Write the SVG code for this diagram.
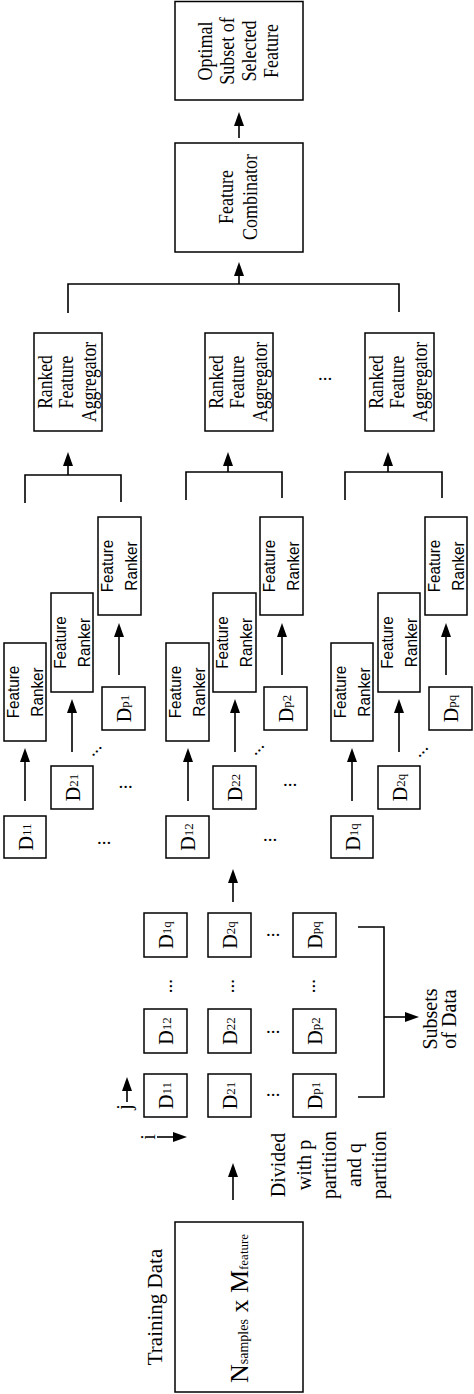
<svg xmlns="http://www.w3.org/2000/svg" width="474" height="1394" viewBox="0 0 474 1394">
<style>
.box{fill:#fff;stroke:#000;stroke-width:1.5}
.ln{fill:none;stroke:#000;stroke-width:1.6}
.arr{fill:none;stroke:#000;stroke-width:1.6;marker-end:url(#ah)}
.t{font-family:"Liberation Serif","Times New Roman",serif;font-size:20px;fill:#000}
.s{font-family:"Liberation Sans",Arial,sans-serif;font-size:17px;fill:#000}
.m{text-anchor:middle}
.sub{font-size:13px}
.dot{font-family:"Liberation Serif","Times New Roman",serif;font-size:19px;fill:#000;text-anchor:middle}
</style>
<defs>
<marker id="ah" viewBox="0 0 14 10" refX="10" refY="5" markerWidth="14" markerHeight="10" markerUnits="userSpaceOnUse" orient="auto">
<path d="M0,0 L14,5 L0,10 z" fill="#000"/>
</marker>
</defs>
<rect width="474" height="1394" fill="#fff"/>

<g id="connectors">
<line class="arr" x1="239" y1="138" x2="239" y2="116"/>
<line class="arr" x1="239" y1="284" x2="239" y2="266"/>
<path class="ln" d="M68,313 V284 H399 V312"/>
<line class="arr" x1="68" y1="475" x2="68" y2="456"/>
<line class="arr" x1="228" y1="472" x2="228" y2="456"/>
<line class="arr" x1="388" y1="472" x2="388" y2="456"/>
<path class="ln" d="M25,503 V475 H121 V502"/>
<path class="ln" d="M186,500 V472 H282 V498"/>
<path class="ln" d="M345,500 V472 H442 V498"/>
<line class="arr" x1="25" y1="801" x2="25" y2="752"/>
<line class="arr" x1="72" y1="752" x2="72" y2="703"/>
<line class="arr" x1="119" y1="675" x2="119" y2="627"/>
<line class="arr" x1="188" y1="801" x2="188" y2="752"/>
<line class="arr" x1="235" y1="752" x2="235" y2="703"/>
<line class="arr" x1="282" y1="675" x2="282" y2="627"/>
<line class="arr" x1="352" y1="801" x2="352" y2="752"/>
<line class="arr" x1="399" y1="752" x2="399" y2="703"/>
<line class="arr" x1="446" y1="675" x2="446" y2="627"/>
<line class="arr" x1="233" y1="902" x2="233" y2="873"/>
<line class="arr" x1="233" y1="1200" x2="233" y2="1167"/>
<line class="arr" x1="127" y1="1102" x2="127" y2="1081"/>
<line class="arr" x1="157" y1="1137" x2="183" y2="1137"/>
<path class="ln" d="M358,927 H384 V1097 H358"/>
<line class="arr" x1="384" y1="1017" x2="415" y2="1017"/>
</g>

<g id="optimal">
<rect class="box" x="175" y="1.5" width="128" height="98.5"/>
<text class="t m" transform="translate(0,51) rotate(-90) scale(0.9,1)"><tspan x="0" y="212">Optimal</tspan><tspan x="0" y="234">Subset of</tspan><tspan x="0" y="256">Selected</tspan><tspan x="0" y="278">Feature</tspan></text>
</g>

<g id="combinator">
<rect class="box" x="175" y="143" width="128" height="109"/>
<text class="t m" transform="translate(0,197) rotate(-90) scale(0.9,1)"><tspan x="0" y="233">Feature</tspan><tspan x="0" y="257">Combinator</tspan></text>
</g>

<g id="agg1">
<rect class="box" x="34" y="333" width="68" height="98"/>
<text class="t m" transform="translate(0,382) rotate(-90) scale(0.88,1)"><tspan x="0" y="52">Ranked</tspan><tspan x="0" y="73.5">Feature</tspan><tspan x="0" y="96">Aggregator</tspan></text>
</g>
<g id="agg2">
<rect class="box" x="205" y="333" width="68" height="98"/>
<text class="t m" transform="translate(0,382) rotate(-90) scale(0.88,1)"><tspan x="0" y="223">Ranked</tspan><tspan x="0" y="244.5">Feature</tspan><tspan x="0" y="267">Aggregator</tspan></text>
</g>
<g id="agg3">
<rect class="box" x="365" y="333" width="69" height="98"/>
<text class="t m" transform="translate(0,382) rotate(-90) scale(0.88,1)"><tspan x="0" y="383">Ranked</tspan><tspan x="0" y="404.5">Feature</tspan><tspan x="0" y="427">Aggregator</tspan></text>
</g>
<text class="dot" x="325" y="380">...</text>

<g id="fr11">
<rect class="box" x="4" y="643" width="42" height="98"/>
<text class="s m" transform="translate(0,692) rotate(-90) scale(0.9,1)"><tspan x="0" y="19.5">Feature</tspan><tspan x="0" y="43">Ranker</tspan></text>
</g>
<g id="fr21">
<rect class="box" x="51" y="593" width="42" height="99"/>
<text class="s m" transform="translate(0,642.5) rotate(-90) scale(0.9,1)"><tspan x="0" y="66">Feature</tspan><tspan x="0" y="90.5">Ranker</tspan></text>
</g>
<g id="frp1">
<rect class="box" x="98" y="517" width="43" height="98"/>
<text class="s m" transform="translate(0,566) rotate(-90) scale(0.9,1)"><tspan x="0" y="113.5">Feature</tspan><tspan x="0" y="137.5">Ranker</tspan></text>
</g>
<g id="fr12">
<rect class="box" x="166" y="643" width="43" height="98"/>
<text class="s m" transform="translate(0,692) rotate(-90) scale(0.9,1)"><tspan x="0" y="181.5">Feature</tspan><tspan x="0" y="205.5">Ranker</tspan></text>
</g>
<g id="fr22">
<rect class="box" x="213" y="593" width="43" height="99"/>
<text class="s m" transform="translate(0,642.5) rotate(-90) scale(0.9,1)"><tspan x="0" y="228.5">Feature</tspan><tspan x="0" y="252.5">Ranker</tspan></text>
</g>
<g id="frp2">
<rect class="box" x="260" y="517" width="43" height="98"/>
<text class="s m" transform="translate(0,566) rotate(-90) scale(0.9,1)"><tspan x="0" y="275.5">Feature</tspan><tspan x="0" y="299.5">Ranker</tspan></text>
</g>
<g id="fr1q">
<rect class="box" x="331" y="643" width="42" height="98"/>
<text class="s m" transform="translate(0,692) rotate(-90) scale(0.9,1)"><tspan x="0" y="346.5">Feature</tspan><tspan x="0" y="370">Ranker</tspan></text>
</g>
<g id="fr2q">
<rect class="box" x="378" y="593" width="42" height="99"/>
<text class="s m" transform="translate(0,642.5) rotate(-90) scale(0.9,1)"><tspan x="0" y="393.5">Feature</tspan><tspan x="0" y="417">Ranker</tspan></text>
</g>
<g id="frpq">
<rect class="box" x="425" y="517" width="42" height="98"/>
<text class="s m" transform="translate(0,566) rotate(-90) scale(0.9,1)"><tspan x="0" y="440.5">Feature</tspan><tspan x="0" y="464">Ranker</tspan></text>
</g>

<g id="d11a">
<rect class="box" x="4" y="816" width="42" height="42"/>
<text class="t m" transform="translate(32.5,837) rotate(-90)">D<tspan class="sub" dy="-2">11</tspan></text>
</g>
<g id="d21a">
<rect class="box" x="51" y="766" width="42" height="43"/>
<text class="t m" transform="translate(79.5,787.5) rotate(-90)">D<tspan class="sub" dy="-2">21</tspan></text>
</g>
<g id="dp1a">
<rect class="box" x="102" y="687" width="43" height="43"/>
<text class="t m" transform="translate(130.5,708.5) rotate(-90)">D<tspan class="sub" dy="-2">p1</tspan></text>
</g>
<g id="d12a">
<rect class="box" x="166" y="816" width="43" height="42"/>
<text class="t m" transform="translate(194.5,837) rotate(-90)">D<tspan class="sub" dy="-2">12</tspan></text>
</g>
<g id="d22a">
<rect class="box" x="213" y="766" width="43" height="43"/>
<text class="t m" transform="translate(241.5,787.5) rotate(-90)">D<tspan class="sub" dy="-2">22</tspan></text>
</g>
<g id="dp2a">
<rect class="box" x="264" y="687" width="43" height="43"/>
<text class="t m" transform="translate(292.5,708.5) rotate(-90)">D<tspan class="sub" dy="-2">p2</tspan></text>
</g>
<g id="d1qa">
<rect class="box" x="331" y="816" width="42" height="42"/>
<text class="t m" transform="translate(359.5,837) rotate(-90)">D<tspan class="sub" dy="-2">1q</tspan></text>
</g>
<g id="d2qa">
<rect class="box" x="378" y="766" width="42" height="43"/>
<text class="t m" transform="translate(406.5,787.5) rotate(-90)">D<tspan class="sub" dy="-2">2q</tspan></text>
</g>
<g id="dpqa">
<rect class="box" x="429" y="687" width="43" height="43"/>
<text class="t m" transform="translate(457.5,708.5) rotate(-90)">D<tspan class="sub" dy="-2">pq</tspan></text>
</g>

<text class="dot" transform="translate(97.5,752) rotate(-45)">...</text>
<text class="dot" transform="translate(260,751) rotate(-45)">...</text>
<text class="dot" transform="translate(424,753) rotate(-45)">...</text>
<text class="dot" x="125.5" y="788">...</text>
<text class="dot" x="104" y="844">...</text>
<text class="dot" x="290" y="786">...</text>
<text class="dot" x="270" y="841">...</text>

<g id="g1q">
<rect class="box" x="144" y="913" width="43" height="44"/>
<text class="t m" transform="translate(172.5,935) rotate(-90)">D<tspan class="sub" dy="-2">1q</tspan></text>
</g>
<g id="g2q">
<rect class="box" x="208" y="913" width="43" height="44"/>
<text class="t m" transform="translate(236.5,935) rotate(-90)">D<tspan class="sub" dy="-2">2q</tspan></text>
</g>
<g id="gpq">
<rect class="box" x="293" y="913" width="43" height="44"/>
<text class="t m" transform="translate(321.5,935) rotate(-90)">D<tspan class="sub" dy="-2">pq</tspan></text>
</g>
<g id="g12">
<rect class="box" x="144" y="1009" width="43" height="44"/>
<text class="t m" transform="translate(172.5,1031) rotate(-90)">D<tspan class="sub" dy="-2">12</tspan></text>
</g>
<g id="g22">
<rect class="box" x="208" y="1009" width="43" height="44"/>
<text class="t m" transform="translate(236.5,1031) rotate(-90)">D<tspan class="sub" dy="-2">22</tspan></text>
</g>
<g id="gp2">
<rect class="box" x="293" y="1009" width="43" height="44"/>
<text class="t m" transform="translate(321.5,1031) rotate(-90)">D<tspan class="sub" dy="-2">p2</tspan></text>
</g>
<g id="g11">
<rect class="box" x="144" y="1074" width="43" height="43"/>
<text class="t m" transform="translate(172.5,1095.5) rotate(-90)">D<tspan class="sub" dy="-2">11</tspan></text>
</g>
<g id="g21">
<rect class="box" x="208" y="1074" width="43" height="43"/>
<text class="t m" transform="translate(236.5,1095.5) rotate(-90)">D<tspan class="sub" dy="-2">21</tspan></text>
</g>
<g id="gp1">
<rect class="box" x="293" y="1074" width="43" height="43"/>
<text class="t m" transform="translate(321.5,1095.5) rotate(-90)">D<tspan class="sub" dy="-2">p1</tspan></text>
</g>

<text class="dot" x="273" y="936">...</text>
<text class="dot" x="273" y="1033">...</text>
<text class="dot" x="273" y="1096">...</text>
<text class="dot" transform="translate(172,986) rotate(-90)">...</text>
<text class="dot" transform="translate(234,986) rotate(-90)">...</text>
<text class="dot" transform="translate(315,986) rotate(-90)">...</text>

<text class="t m" transform="translate(131,1107) rotate(-90)">j</text>
<text class="t m" transform="translate(155,1137) rotate(-90)">i</text>

<g id="subsets">
<text class="t m" transform="translate(0,1019) rotate(-90)"><tspan x="0" y="437">Subsets</tspan><tspan x="0" y="456">of Data</tspan></text>
</g>

<g id="divided">
<text class="t m" transform="translate(0,1165) rotate(-90)"><tspan x="0" y="285">Divided</tspan><tspan x="0" y="311">with p</tspan><tspan x="0" y="336">partition</tspan><tspan x="0" y="361">and q</tspan><tspan x="0" y="386">partition</tspan></text>
</g>

<g id="training">
<text class="t m" style="font-size:21px" transform="translate(162,1307) rotate(-90)">Training Data</text>
<rect class="box" x="175" y="1222" width="128" height="170"/>
<text class="t" style="font-size:26px" transform="translate(248,1383) rotate(-90)">N<tspan style="font-size:14px">samples</tspan> x M<tspan style="font-size:13px">feature</tspan></text>
</g>
</svg>
